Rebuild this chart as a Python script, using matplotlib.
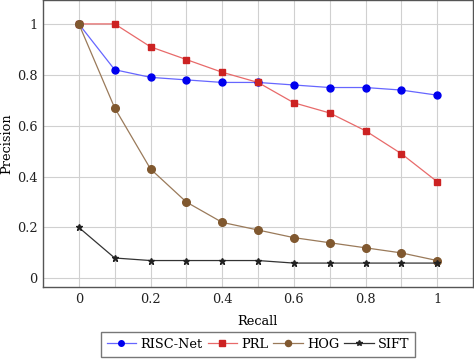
import numpy as np
import matplotlib.pyplot as plt

plt.rcParams['font.family'] = ['DejaVu Serif']

recall = [0, 0.1, 0.2, 0.3, 0.4, 0.5, 0.6, 0.7, 0.8, 0.9, 1.0]
risc_net = [1.0, 0.82, 0.79, 0.78, 0.77, 0.77, 0.76, 0.75, 0.75, 0.74, 0.72]
prl = [1.0, 1.0, 0.91, 0.86, 0.81, 0.77, 0.69, 0.65, 0.58, 0.49, 0.38]
hog = [1.0, 0.67, 0.43, 0.30, 0.22, 0.19, 0.16, 0.14, 0.12, 0.10, 0.07]
sift = [0.20, 0.08, 0.07, 0.07, 0.07, 0.07, 0.06, 0.06, 0.06, 0.06, 0.06]

fs = 9.3

fig = plt.figure(figsize=(4.74, 3.61), dpi=100)
ax = fig.add_axes([43/474, 1 - 287/361, 430/474, 287/361])

ax.plot(recall, risc_net, color='#6666ff', lw=0.9, marker='o', ms=5,
        mfc='#0000ee', mec='#0000ee', label='RISC-Net', zorder=3)
ax.plot(recall, prl, color='#e86a6a', lw=0.9, marker='s', ms=5,
        mfc='#cc2222', mec='#cc2222', label='PRL', zorder=3)
ax.plot(recall, hog, color='#9a7a5a', lw=0.9, marker='o', ms=5.5,
        mfc='#80582f', mec='#80582f', label='HOG', zorder=3)
ax.plot(recall, sift, color='#333333', lw=0.9, marker='*', ms=5,
        mfc='#222222', mec='#222222', label='SIFT', zorder=3)

ax.set_xlim(-0.1, 1.1)
ax.set_ylim(-0.034, 1.094)
ax.set_xticks([0, 0.2, 0.4, 0.6, 0.8, 1])
ax.set_xticklabels(['0', '0.2', '0.4', '0.6', '0.8', '1'])
ax.set_xticks(np.arange(0, 1.01, 0.1), minor=True)
ax.set_yticks([0, 0.2, 0.4, 0.6, 0.8, 1])
ax.set_yticklabels(['0', '0.2', '0.4', '0.6', '0.8', '1'])
ax.grid(True, which='both', axis='x', color='#d0d0d0', lw=0.8)
ax.grid(True, which='major', axis='y', color='#d0d0d0', lw=0.8)
ax.tick_params(which='both', length=0, labelsize=fs, colors='#222222', pad=4)
for s in ax.spines.values():
    s.set_color('#555555')
    s.set_linewidth(1.0)

ax.set_xlabel('Recall', fontsize=fs)
ax.xaxis.set_label_coords(0.5, -28/287)
ax.set_ylabel('Precision', fontsize=fs)
ax.yaxis.set_label_coords(-30/430, 0.5)

fig.legend(loc='upper center', bbox_to_anchor=(258/474, 1 - 332/361), ncol=4,
           fontsize=fs, frameon=True, fancybox=False, edgecolor='#555555',
           handlelength=2.3, handletextpad=0.3, columnspacing=0.4, borderpad=0.45,
           borderaxespad=0, markerscale=0.8)

fig.savefig('out.png', dpi=100)
